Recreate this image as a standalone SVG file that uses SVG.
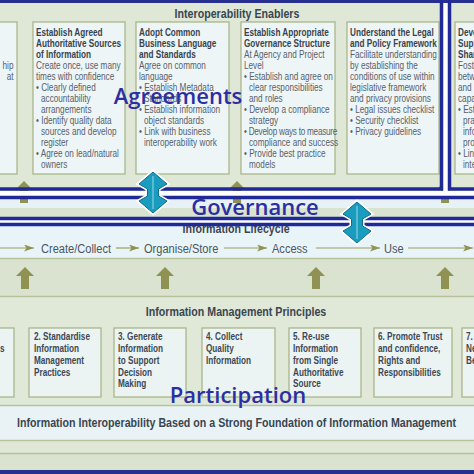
<svg xmlns="http://www.w3.org/2000/svg" width="474" height="474" viewBox="0 0 474 474">
<style>
text{font-family:"Liberation Sans",Arial,sans-serif}
.h{font-weight:bold;font-size:10px;fill:#38434e}
.t{font-size:10px;fill:#56616c}
.p{font-weight:bold;font-size:10px;fill:#3d4853}
.ttl{font-weight:bold;font-size:13px;fill:#3a4550;text-anchor:middle}
.lc{font-size:13.5px;fill:#4a5561}
.big{font-family:"Open Sans","Liberation Sans",sans-serif;font-weight:600;font-size:22px;fill:#2b2fa3;text-anchor:middle}
.box{fill:#eef5f7;stroke:#aab58c;stroke-width:1.3}
.pbox{fill:#ebf3f3;stroke:#aab58c;stroke-width:1.3}
.olive{fill:#8f9252}
.nv{stroke:#1f2a98;stroke-width:3.5;fill:none}
.sep{stroke:#b7c29c;stroke-width:1.5}
.lcl{stroke:#9b9d5f;stroke-width:1.2;fill:none;marker-end:url(#ah)}
.teal{fill:#1a9cbf;stroke:#0d6f8d;stroke-width:1}
</style>
<defs>
<marker id="ah" markerUnits="userSpaceOnUse" markerWidth="11" markerHeight="8" refX="10" refY="3.5" orient="auto">
<path d="M0,0 L10,3.5 L0,7 L2.5,3.5 Z" fill="#8f9252"/>
</marker>
<polygon id="up" points="0,0 9,9 4,9 4,22 -4,22 -4,9 -9,9"/>
<polygon id="dbl" points="0,0 14,12 5.5,17 5.5,24 14,29 0,41 -14,29 -5.5,24 -5.5,17 -14,12"/>
</defs>

<rect x="0" y="0" width="474" height="474" fill="#dde6d4"/>
<rect x="0" y="3" width="474" height="186" fill="#dfe7d7"/>
<rect x="0" y="199" width="474" height="9" fill="#e6f2f6"/>
<rect x="0" y="208" width="474" height="9" fill="#d9e4d0"/>
<rect x="0" y="225" width="474" height="33" fill="#e9f4f8"/>
<rect x="0" y="259" width="474" height="37" fill="#d9e3cf"/>
<rect x="0" y="297" width="474" height="108" fill="#e0e8d8"/>
<rect x="0" y="406" width="474" height="34" fill="#e9f3f6"/>
<rect x="0" y="441" width="474" height="12" fill="#dfe8d6"/>
<rect x="0" y="454" width="474" height="16" fill="#d9e3d0"/>
<rect x="0" y="0" width="474" height="3" fill="#28308f"/>
<rect x="0" y="470" width="474" height="4" fill="#28308f"/>
<g id="separators">
<line class="sep" x1="0" y1="258.5" x2="474" y2="258.5"/>
<line class="sep" x1="0" y1="296.5" x2="474" y2="296.5"/>
<line class="sep" x1="0" y1="405.5" x2="474" y2="405.5"/>
<line class="sep" x1="0" y1="440.5" x2="474" y2="440.5"/>
<line class="sep" x1="0" y1="453.5" x2="474" y2="453.5"/>
</g>

<g transform="matrix(.82 0 0 1 237 0)"><text class="ttl" x="0" y="18">Interoperability Enablers</text></g>

<g id="enabler0">
<rect class="box" x="-5" y="22" width="22" height="152"/>
<g transform="matrix(.82 0 0 1 13.5 0)">
<text class="t" x="0" y="69.5" text-anchor="end">hip</text>
<text class="t" x="0" y="80.5" text-anchor="end">at</text>
</g>
</g>
<g id="enabler1">
<rect class="box" x="33" y="22" width="92" height="152"/>
<g transform="matrix(.82 0 0 1 36 0)">
<text class="h" x="0" y="36.5">Establish Agreed</text>
<text class="h" x="0" y="47.5">Authoritative Sources</text>
<text class="h" x="0" y="58.5">of Information</text>
<text class="t" x="0" y="69.5">Create once, use many</text>
<text class="t" x="0" y="80.5">times with confidence</text>
<text class="t" x="0" y="91.5">• Clearly defined</text>
<text class="t" x="6.1" y="102.5">accountability</text>
<text class="t" x="6.1" y="113.5">arrangements</text>
<text class="t" x="0" y="124.5">• Identify quality data</text>
<text class="t" x="6.1" y="135.5">sources and develop</text>
<text class="t" x="6.1" y="146.5">register</text>
<text class="t" x="0" y="157.5">• Agree on lead/natural</text>
<text class="t" x="6.1" y="168.5">owners</text>
</g>
</g>
<g id="enabler2">
<rect class="box" x="136" y="22" width="93" height="152"/>
<g transform="matrix(.82 0 0 1 139 0)">
<text class="h" x="0" y="36.5">Adopt Common</text>
<text class="h" x="0" y="47.5">Business Language</text>
<text class="h" x="0" y="58.5">and Standards</text>
<text class="t" x="0" y="69.5">Agree on common</text>
<text class="t" x="0" y="80.5">language</text>
<text class="t" x="0" y="91.5">• Establish Metadata</text>
<text class="t" x="6.1" y="102.5">Standards</text>
<text class="t" x="0" y="113.5">• Establish information</text>
<text class="t" x="6.1" y="124.5">object standards</text>
<text class="t" x="0" y="135.5">• Link with business</text>
<text class="t" x="6.1" y="146.5">interoperability work</text>
</g>
</g>
<g id="enabler3">
<rect class="box" x="241" y="22" width="94" height="152"/>
<g transform="matrix(.82 0 0 1 244 0)">
<text class="h" x="0" y="36.5">Establish Appropriate</text>
<text class="h" x="0" y="47.5">Governance Structure</text>
<text class="t" x="0" y="58.5">At Agency and Project</text>
<text class="t" x="0" y="69.5">Level</text>
<text class="t" x="0" y="80.5">• Establish and agree on</text>
<text class="t" x="6.1" y="91.5">clear responsibilities</text>
<text class="t" x="6.1" y="102.5">and roles</text>
<text class="t" x="0" y="113.5">• Develop a compliance</text>
<text class="t" x="6.1" y="124.5">strategy</text>
<text class="t" x="0" y="135.5" letter-spacing="-0.3">• Develop ways to measure</text>
<text class="t" x="6.1" y="146.5">compliance and success</text>
<text class="t" x="0" y="157.5">• Provide best practice</text>
<text class="t" x="6.1" y="168.5">models</text>
</g>
</g>
<g id="enabler4">
<rect class="box" x="347" y="22" width="92" height="152"/>
<g transform="matrix(.82 0 0 1 350 0)">
<text class="h" x="0" y="36.5">Understand the Legal</text>
<text class="h" x="0" y="47.5">and Policy Framework</text>
<text class="t" x="0" y="58.5">Facilitate understanding</text>
<text class="t" x="0" y="69.5">by establishing the</text>
<text class="t" x="0" y="80.5">conditions of use within</text>
<text class="t" x="0" y="91.5">legislative framework</text>
<text class="t" x="0" y="102.5">and privacy provisions</text>
<text class="t" x="0" y="113.5">• Legal issues checklist</text>
<text class="t" x="0" y="124.5">• Security checklist</text>
<text class="t" x="0" y="135.5">• Privacy guidelines</text>
</g>
</g>
<g id="enabler5">
<rect class="box" x="455" y="22" width="30" height="152"/>
<g transform="matrix(.82 0 0 1 458 0)">
<text class="h" x="0" y="36.5">Deve</text>
<text class="h" x="0" y="47.5">Supp</text>
<text class="h" x="0" y="58.5">Shari</text>
<text class="t" x="0" y="69.5">Foste</text>
<text class="t" x="0" y="80.5">betw</text>
<text class="t" x="0" y="91.5">and b</text>
<text class="t" x="0" y="102.5">capa</text>
<text class="t" x="0" y="113.5">• Esta</text>
<text class="t" x="6.1" y="124.5">pra-</text>
<text class="t" x="6.1" y="135.5">info</text>
<text class="t" x="6.1" y="146.5">prot</text>
<text class="t" x="0" y="157.5">• Link</text>
<text class="t" x="6.1" y="168.5">inter</text>
</g>
</g>

<g id="upper-arrows" class="olive">
<use href="#up" x="24" y="181"/>
<use href="#up" x="237" y="181"/>
<use href="#up" x="445" y="181"/>
</g>

<g transform="matrix(.82 0 0 1 236 0)"><text class="ttl" x="0" y="233.5">Information Lifecycle</text></g>

<g id="governance-lines">
<rect x="0" y="191" width="474" height="5" fill="#ffffff"/>
<rect x="443" y="3" width="5" height="188" fill="#ffffff"/>
<rect x="0" y="220" width="474" height="3" fill="#ffffff"/>
<path class="nv" d="M0,189 H441.5 V0"/>
<path class="nv" d="M474,189 H449.5 V0"/>
<line class="nv" x1="0" y1="197.5" x2="474" y2="197.5"/>
<line class="nv" x1="0" y1="218.5" x2="474" y2="218.5"/>
<line class="nv" x1="0" y1="224.5" x2="474" y2="224.5"/>
</g>

<g id="lifecycle-connectors">
<line class="lcl" x1="0" y1="248" x2="34" y2="248"/>
<line class="lcl" x1="116" y1="248" x2="139" y2="248"/>
<line class="lcl" x1="224" y1="248" x2="267" y2="248"/>
<line class="lcl" x1="316" y1="248" x2="380" y2="248"/>
<line class="lcl" x1="408" y1="248" x2="473" y2="248"/>
</g>
<g id="lifecycle-stages">
<g transform="matrix(.82 0 0 1 41 0)"><text class="lc" x="0" y="252.8">Create/Collect</text></g>
<g transform="matrix(.82 0 0 1 144 0)"><text class="lc" x="0" y="252.8">Organise/Store</text></g>
<g transform="matrix(.82 0 0 1 272 0)"><text class="lc" x="0" y="252.8">Access</text></g>
<g transform="matrix(.82 0 0 1 384 0)"><text class="lc" x="0" y="252.8">Use</text></g>
</g>

<g id="teal-arrows">
<use href="#dbl" x="153" y="172" fill="none" stroke="#ffffff" stroke-width="4"/>
<use href="#dbl" x="153" y="172" class="teal"/>
<line x1="153" y1="176" x2="153" y2="209" stroke="#bfe8f2" stroke-width="0.8"/>
<use href="#dbl" x="357" y="202" fill="none" stroke="#ffffff" stroke-width="4"/>
<use href="#dbl" x="357" y="202" class="teal"/>
<line x1="357" y1="206" x2="357" y2="239" stroke="#bfe8f2" stroke-width="0.8"/>
</g>

<text class="big" x="178" y="104">Agreements</text>
<text class="big" x="255" y="215">Governance</text>

<g id="lower-arrows" class="olive">
<use href="#up" x="25" y="267"/>
<use href="#up" x="165" y="267"/>
<use href="#up" x="316" y="267"/>
<use href="#up" x="445" y="267"/>
</g>

<g transform="matrix(.82 0 0 1 236 0)"><text class="ttl" x="0" y="316.5">Information Management Principles</text></g>

<g id="principle1">
<rect class="pbox" x="-5" y="328" width="19" height="69"/>
<g transform="matrix(.82 0 0 1 0 0)"><text class="p" x="0" y="352.2">s</text></g>
</g>
<g id="principle2">
<rect class="pbox" x="29" y="328" width="72" height="69"/>
<g transform="matrix(.82 0 0 1 34 0)">
<text class="p" x="0" y="340.5">2. Standardise</text>
<text class="p" x="0" y="352.2">Information</text>
<text class="p" x="0" y="363.9">Management</text>
<text class="p" x="0" y="375.6">Practices</text>
</g>
</g>
<g id="principle3">
<rect class="pbox" x="114" y="328" width="72" height="69"/>
<g transform="matrix(.82 0 0 1 118 0)">
<text class="p" x="0" y="340.5">3. Generate</text>
<text class="p" x="0" y="352.2">Information</text>
<text class="p" x="0" y="363.9">to Support</text>
<text class="p" x="0" y="375.6">Decision</text>
<text class="p" x="0" y="387.3">Making</text>
</g>
</g>
<g id="principle4">
<rect class="pbox" x="202" y="328" width="73" height="69"/>
<g transform="matrix(.82 0 0 1 206 0)">
<text class="p" x="0" y="340.5">4. Collect</text>
<text class="p" x="0" y="352.2">Quality</text>
<text class="p" x="0" y="363.9">Information</text>
</g>
</g>
<g id="principle5">
<rect class="pbox" x="289" y="328" width="72" height="69"/>
<g transform="matrix(.82 0 0 1 293 0)">
<text class="p" x="0" y="340.5">5. Re-use</text>
<text class="p" x="0" y="352.2">Information</text>
<text class="p" x="0" y="363.9">from Single</text>
<text class="p" x="0" y="375.6">Authoritative</text>
<text class="p" x="0" y="387.3">Source</text>
</g>
</g>
<g id="principle6">
<rect class="pbox" x="374" y="328" width="78" height="69"/>
<g transform="matrix(.82 0 0 1 378 0)">
<text class="p" x="0" y="340.5">6. Promote Trust</text>
<text class="p" x="0" y="352.2">and confidence,</text>
<text class="p" x="0" y="363.9">Rights and</text>
<text class="p" x="0" y="375.6">Responsibilities</text>
</g>
</g>
<g id="principle7">
<rect class="pbox" x="462" y="328" width="20" height="69"/>
<g transform="matrix(.82 0 0 1 466 0)">
<text class="p" x="0" y="340.5">7.</text>
<text class="p" x="0" y="352.2">Ne</text>
<text class="p" x="0" y="363.9">Be</text>
</g>
</g>

<text class="big" x="238" y="403">Participation</text>

<g transform="matrix(.82 0 0 1 236.5 0)"><text class="ttl" x="0" y="427.5">Information Interoperability Based on a Strong Foundation of Information Management</text></g>
</svg>
